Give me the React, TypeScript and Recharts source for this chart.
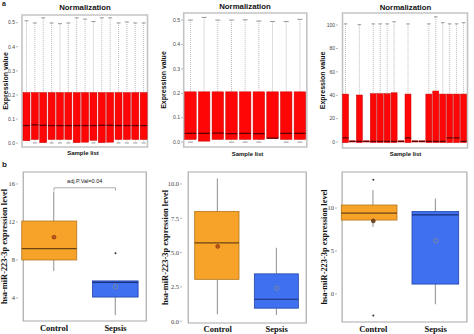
import React from "react";
import { Bar, ComposedChart, ReferenceArea, ReferenceLine, Scatter, XAxis, YAxis } from "recharts";

const SANS = "'Liberation Sans', Arial, Helvetica, sans-serif";
const SERIF = "'Liberation Serif', 'Times New Roman', Times, serif";

// ---- a: normalization box plots (three platforms) ----
const A1_SAMPLES = ["S1", "S2", "S3", "S4", "S5", "S6", "S7", "S8", "S9", "S10", "S11", "S12", "S13", "S14", "S15"];
const A1_MIN = [0.01, 0.005, 0.002, 0.005, 0.005, 0.005, 0.002, 0.004, 0.005, 0.002, 0.004, 0.005, 0.005, 0.005, 0.005];
const A1_Q1 = [0.01, 0.015, 0.002, 0.015, 0.015, 0.015, 0.002, 0.004, 0.012, 0.002, 0.004, 0.015, 0.015, 0.015, 0.015];
const A1_MED = [0.073, 0.076, 0.074, 0.073, 0.073, 0.073, 0.073, 0.073, 0.073, 0.074, 0.074, 0.073, 0.073, 0.073, 0.073];
const A1_Q3 = [0.21, 0.21, 0.21, 0.21, 0.21, 0.21, 0.21, 0.21, 0.21, 0.21, 0.21, 0.21, 0.21, 0.21, 0.21];
const A1_MAX = [0.508, 0.499, 0.52, 0.499, 0.496, 0.499, 0.52, 0.515, 0.505, 0.52, 0.52, 0.499, 0.503, 0.499, 0.499];

const A2_SAMPLES = ["S1", "S2", "S3", "S4", "S5", "S6", "S7", "S8", "S9"];
const A2_MIN = [0.004, 0.004, 0.011, 0.004, 0.004, 0.004, 0.015, 0.004, 0.004];
const A2_Q1 = [0.011, 0.004, 0.011, 0.011, 0.011, 0.011, 0.015, 0.011, 0.011];
const A2_MED = [0.036, 0.036, 0.037, 0.035, 0.036, 0.035, 0.016, 0.036, 0.036];
const A2_Q3 = [0.206, 0.206, 0.206, 0.206, 0.206, 0.206, 0.206, 0.206, 0.206];
const A2_MAX = [0.5, 0.511, 0.5, 0.5, 0.501, 0.496, 0.494, 0.494, 0.503];

const A3_SAMPLES = ["S1", "S2", "S3", "S4", "S5", "S6", "S7", "S8", "S9", "S10", "S11", "S12", "S13", "S14", "S15", "S16", "S17", "S18"];
const A3_MIN = [-0.5, 0, -0.5, 0, -0.5, -0.5, -0.5, -0.5, 0, -0.5, 0, 0, -0.5, -0.5, -0.5, -0.5, -0.5, -0.5];
const A3_Q1 = [-0.5, 0, -0.5, 0, -0.5, -0.5, -0.5, -0.5, 0, -0.5, 0, 0, -0.5, -0.5, -0.5, -0.5, -0.5, -0.5];
const A3_MED = [3.5, 0.5, 0.5, 0.5, 0.5, 0.5, 0.5, 0.5, 0.5, 3.5, 0.5, 0.5, 0.5, 0.5, 0.5, 3.5, 3.5, 0.5];
const A3_Q3 = [41, 1, 40.2, 1, 41.3, 41.3, 41.3, 42.1, 1, 41, 1, 1, 41, 43.6, 41, 41, 41, 41];
const A3_MAX = [101, 1, 100.3, 1, 101, 101, 101, 102.8, 1, 101, 1, 1, 101, 107, 102, 101, 101, 102];

// ---- b: hsa-miR-223-3p expression, Control vs Sepsis ----
const GROUPS = ["Control", "Sepsis"];
const B1_MIN = [6.85, 2.2];
const B1_Q1 = [8.0, 4.1];
const B1_MED = [9.2, 5.65];
const B1_Q3 = [12.1, 5.8];
const B1_MAX = [15.2, 5.8];
const B1_MEAN = [10.4, 5.2];
const B1_OUT_HI = [null, 8.7];
const B1_PVAL = "adj.P.Val=0.04";
const B1_BRACKET = 15.6;

const B2_MIN = [0.5, 0.45];
const B2_Q1 = [3.05, 0.95];
const B2_MED = [5.7, 1.6];
const B2_Q3 = [8.0, 3.45];
const B2_MAX = [10.4, 5.35];
const B2_MEAN = [5.45, 2.4];

const B3_MIN = [7.8, -1.2];
const B3_Q1 = [8.6, 1.15];
const B3_MED = [9.4, 9.2];
const B3_Q3 = [10.35, 9.6];
const B3_MAX = [12.1, 11.1];
const B3_MEAN = [8.5, 6.2];
const B3_OUT_HI = [13.3, null];
const B3_OUT_LO = [-2.5, null];

const NORM_TICKS = [0, 0.1, 0.2, 0.3, 0.4, 0.5];
const A3_TICKS = [0, 20, 40, 60, 80, 100];
const B1_TICKS = [4, 8, 12, 16];
const B2_TICKS = [0, 2.5, 5, 7.5, 10];
const B3_TICKS = [0, 5, 10];

type Row = {
  name: string; min: number; q1: number; med: number; q3: number; max: number;
  mean: number | null; outHi: number | null; outLo: number | null;
};

function toRows(
  names: string[], min: number[], q1: number[], med: number[], q3: number[], max: number[],
  mean: (number | null)[] = [], outHi: (number | null)[] = [], outLo: (number | null)[] = []
): Row[] {
  return names.map((name, i) => ({
    name, min: min[i], q1: q1[i], med: med[i], q3: q3[i], max: max[i],
    mean: mean[i] ?? null, outHi: outHi[i] ?? null, outLo: outLo[i] ?? null,
  }));
}

type Look = {
  fill: string; stroke: string; sw: number; median: string; medW: number;
  whisker: string; ww: number; dash?: string; cap: number; capColor: string;
  w: number; dx: number; meanFill: string; meanStroke: string;
};

const RED: Look = {
  fill: "#ff0606", stroke: "#c80000", sw: 0.5, median: "#5a0000", medW: 1.3,
  whisker: "#a8a8a8", ww: 0.8, dash: "1 1", cap: 4, capColor: "#8c8c8c",
  w: 7, dx: 0, meanFill: "none", meanStroke: "none",
};
const ORANGE: Look = {
  fill: "#f7a229", stroke: "#b5761c", sw: 0.8, median: "#6b4614", medW: 1.2,
  whisker: "#8f8f8f", ww: 1, cap: 0, capColor: "#8f8f8f",
  w: 50, dx: 0, meanFill: "#c0581c", meanStroke: "#8a3c10",
};
const BLUE: Look = {
  fill: "#3e70ef", stroke: "#2445a8", sw: 0.8, median: "#1b2f78", medW: 1.2,
  whisker: "#8f8f8f", ww: 1, cap: 0, capColor: "#8f8f8f",
  w: 45, dx: 0, meanFill: "none", meanStroke: "#8a8a8a",
};

function BoxShape(props: any) {
  const { x, y, width, height, payload, look } = props;
  if (!payload || x == null || y == null) return <g />;
  const top = Math.min(y, y + height);
  const bot = Math.max(y, y + height);
  const span = payload.max - payload.min;
  const py = (v: number) => (span <= 0 ? bot : top + ((payload.max - v) / span) * (bot - top));
  const cx = x + width / 2;
  const bx = cx + look.dx - look.w / 2;
  const yMax = py(payload.max);
  const yQ3 = py(payload.q3);
  const yMed = py(payload.med);
  const yQ1 = py(payload.q1);
  const yMin = py(payload.min);
  return (
    <g>
      {payload.max > payload.q3 && (
        <line x1={cx} x2={cx} y1={yMax} y2={yQ3} stroke={look.whisker} strokeWidth={look.ww} strokeDasharray={look.dash} />
      )}
      {payload.min < payload.q1 && (
        <line x1={cx} x2={cx} y1={yQ1} y2={yMin} stroke={look.whisker} strokeWidth={look.ww} strokeDasharray={look.dash} />
      )}
      {look.cap > 0 && payload.max > payload.q3 && (
        <line x1={cx - look.cap / 2} x2={cx + look.cap / 2} y1={yMax} y2={yMax} stroke={look.capColor} strokeWidth={0.9} />
      )}
      {look.cap > 0 && payload.min < payload.q1 && (
        <line x1={cx - look.cap / 2} x2={cx + look.cap / 2} y1={yMin + 1} y2={yMin + 1} stroke={look.capColor} strokeWidth={0.9} />
      )}
      <rect x={bx} y={yQ3} width={look.w} height={Math.max(yQ1 - yQ3, 1)} fill={look.fill} stroke={look.stroke} strokeWidth={look.sw} />
      <line x1={bx} x2={bx + look.w} y1={yMed} y2={yMed} stroke={look.median} strokeWidth={look.medW} />
    </g>
  );
}

type Cfg = {
  left: number; top: number; width: number; height: number;
  margin: { top: number; right: number; bottom: number; left: number };
  yWidth: number; xHeight: number; padL: number; padR: number;
  domain: [number, number]; ticks: number[]; fmt: (v: number) => string;
  looks: Look[]; norm: boolean; yTitleX: number; xTitleY: number; titleY: number; titleDx: number; tickMargin: number;
};

function BoxPanel({ cfg, data, children }: { cfg: Cfg; data: Row[]; children?: React.ReactNode }) {
  const names = data.map((d) => d.name);
  const lookOf = (name: string) => cfg.looks[Math.max(names.indexOf(name), 0) % cfg.looks.length];
  const plotL = cfg.margin.left + cfg.yWidth;
  const plotR = cfg.width - cfg.margin.right;
  const plotT = cfg.margin.top;
  const plotB = cfg.height - cfg.margin.bottom - cfg.xHeight;
  const midX = (plotL + plotR) / 2;
  const midY = (plotT + plotB) / 2;
  const yTitle = cfg.norm ? "Expression value" : "hsa-miR-223-3p expression level";

  return (
    <div style={{ position: "absolute", left: cfg.left, top: cfg.top }}>
      <ComposedChart width={cfg.width} height={cfg.height} data={data} margin={cfg.margin}>
        <XAxis
          dataKey="name"
          type="category"
          interval={0}
          height={cfg.xHeight}
          padding={{ left: cfg.padL, right: cfg.padR }}
          axisLine={false}
          tickLine={false}
          tickSize={0}
          tickMargin={cfg.tickMargin}
          tick={cfg.norm ? false : { fontSize: 8.5, fontWeight: 700, fill: "#111", fontFamily: SERIF }}
          label={() =>
            cfg.norm ? (
              <text x={midX} y={cfg.xTitleY} textAnchor="middle" fontSize={6} fontWeight={700} fill="#111" fontFamily={SANS}>
                Sample list
              </text>
            ) : null
          }
        />
        <YAxis
          type="number"
          domain={cfg.domain}
          ticks={cfg.ticks}
          interval={0}
          allowDataOverflow
          width={cfg.yWidth}
          axisLine={false}
          tickSize={2}
          tickMargin={1}
          tickLine={{ stroke: "#888", strokeWidth: 0.6 }}
          tickFormatter={cfg.fmt}
          tick={{ fontSize: cfg.norm ? 5 : 6.5, fill: "#444", fontFamily: cfg.norm ? SANS : SERIF }}
          label={() => (
            <text
              x={cfg.yTitleX}
              y={midY}
              transform={`rotate(-90 ${cfg.yTitleX} ${midY})`}
              textAnchor="middle"
              dominantBaseline="central"
              fontSize={cfg.norm ? 7 : 8.4}
              fontWeight={700}
              fill="#111"
              fontFamily={cfg.norm ? SANS : SERIF}
            >
              {yTitle}
            </text>
          )}
        />
        <ReferenceArea
          y1={cfg.domain[0]}
          y2={cfg.domain[1]}
          ifOverflow="visible"
          fill="none"
          stroke={cfg.norm ? "#c4c4c4" : "#aaaaaa"}
          strokeWidth={cfg.norm ? 1.6 : 1.2}
          label={() =>
            cfg.norm ? (
              <text x={midX + cfg.titleDx} y={cfg.titleY} textAnchor="middle" fontSize={7.8} fontWeight={700} fill="#111" fontFamily={SANS}>
                Normalization
              </text>
            ) : null
          }
        />
        <Bar
          dataKey={(d: Row) => [d.min, d.max]}
          barSize={cfg.looks[0].w}
          isAnimationActive={false}
          shape={(p: any) => <BoxShape {...p} look={lookOf(p.payload?.name)} />}
        />
        {!cfg.norm && (
          <Scatter
            dataKey="mean"
            isAnimationActive={false}
            shape={(p: any) => {
              if (p.payload?.mean == null) return <g />;
              const lk = lookOf(p.payload.name);
              return <circle cx={p.cx} cy={p.cy} r={lk.meanFill === "none" ? 2.2 : 1.9} fill={lk.meanFill} stroke={lk.meanStroke} strokeWidth={0.8} />;
            }}
          />
        )}
        {!cfg.norm && (
          <Scatter
            dataKey="outHi"
            isAnimationActive={false}
            shape={(p: any) => (p.payload?.outHi == null ? <g /> : <circle cx={p.cx} cy={p.cy} r={1} fill="#333" />)}
          />
        )}
        {!cfg.norm && (
          <Scatter
            dataKey="outLo"
            isAnimationActive={false}
            shape={(p: any) => (p.payload?.outLo == null ? <g /> : <circle cx={p.cx} cy={p.cy} r={1} fill="#333" />)}
          />
        )}
        {children}
      </ComposedChart>
    </div>
  );
}

const fmt1 = (v: number) => v.toFixed(1);
const fmt0 = (v: number) => String(v);

const A1: Cfg = {
  left: 0, top: 0, width: 160, height: 165, margin: { top: 15, right: 12, bottom: 0, left: 4 },
  yWidth: 14, xHeight: 18, padL: 4, padR: 0.5, domain: [-0.016, 0.532], ticks: NORM_TICKS, fmt: fmt1,
  looks: [{ ...RED, w: 7 }], norm: true, yTitleX: 5.5, xTitleY: 155, titleY: 10, titleDx: 2, tickMargin: 0,
};
const A2: Cfg = {
  left: 155, top: 0, width: 160, height: 165, margin: { top: 13, right: 3, bottom: 0, left: 8 },
  yWidth: 20, xHeight: 18, padL: 0.7, padR: 5.2, domain: [-0.02, 0.529], ticks: NORM_TICKS, fmt: fmt1,
  looks: [{ ...RED, w: 11.5, cap: 5 }], norm: true, yTitleX: 8, xTitleY: 155.5, titleY: 9.3, titleDx: -2.5, tickMargin: 0,
};
const A3: Cfg = {
  left: 310, top: 0, width: 164, height: 165, margin: { top: 13, right: 1, bottom: 0, left: 10 },
  yWidth: 18, xHeight: 17, padL: 4.5, padR: 5.5, domain: [-5.1, 110.3], ticks: A3_TICKS, fmt: fmt0,
  looks: [{ ...RED, w: 6, cap: 3.5 }], norm: true, yTitleX: 12.8, xTitleY: 156, titleY: 9.5, titleDx: 0, tickMargin: 0,
};
const B1: Cfg = {
  left: 0, top: 165, width: 160, height: 169, margin: { top: 7, right: 7, bottom: 0, left: 6 },
  yWidth: 12, xHeight: 13, padL: 5.25, padR: 6.75, domain: [1.58, 17.26], ticks: B1_TICKS, fmt: fmt0,
  looks: [{ ...ORANGE, w: 55, dx: -4.5 }, { ...BLUE, w: 45.7 }], norm: false, yTitleX: 4.5, xTitleY: 0, titleY: 0, titleDx: 0, tickMargin: 4,
};
const B2: Cfg = {
  left: 155, top: 165, width: 160, height: 169, margin: { top: 7, right: 7, bottom: 0, left: 12 },
  yWidth: 15, xHeight: 11, padL: 6.2, padR: 1.8, domain: [-0.13, 10.87], ticks: B2_TICKS, fmt: fmt1,
  looks: [{ ...ORANGE, w: 44.3, dx: -0.5 }, { ...BLUE, w: 44 }], norm: false, yTitleX: 10, xTitleY: 0, titleY: 0, titleDx: 0, tickMargin: 3,
};
const B3: Cfg = {
  left: 310, top: 165, width: 164, height: 169, margin: { top: 7, right: 1, bottom: 0, left: 15 },
  yWidth: 12, xHeight: 12, padL: 5.1, padR: 6.1, domain: [-3.26, 14.19], ticks: B3_TICKS, fmt: fmt0,
  looks: [{ ...ORANGE, w: 55.7, dx: -3.8, meanFill: "#7a4a22", meanStroke: "#5a3412" }, { ...BLUE, w: 46.7 }], norm: false, yTitleX: 14.5, xTitleY: 0, titleY: 0, titleDx: 0, tickMargin: 4,
};

export default function App() {
  const a1 = toRows(A1_SAMPLES, A1_MIN, A1_Q1, A1_MED, A1_Q3, A1_MAX);
  const a2 = toRows(A2_SAMPLES, A2_MIN, A2_Q1, A2_MED, A2_Q3, A2_MAX);
  const a3 = toRows(A3_SAMPLES, A3_MIN, A3_Q1, A3_MED, A3_Q3, A3_MAX);
  const b1 = toRows(GROUPS, B1_MIN, B1_Q1, B1_MED, B1_Q3, B1_MAX, B1_MEAN, B1_OUT_HI);
  const b2 = toRows(GROUPS, B2_MIN, B2_Q1, B2_MED, B2_Q3, B2_MAX, B2_MEAN);
  const b3 = toRows(GROUPS, B3_MIN, B3_Q1, B3_MED, B3_Q3, B3_MAX, B3_MEAN, B3_OUT_HI, B3_OUT_LO);
  const bracket = { stroke: "#9a9a9a", strokeWidth: 0.8, ifOverflow: "visible" as const };

  return (
    <div style={{ position: "absolute", left: 0, top: 0, width: 474, height: 334, background: "#fff", overflow: "hidden" }}>
      <BoxPanel cfg={A1} data={a1} />
      <BoxPanel cfg={A2} data={a2} />
      <BoxPanel cfg={A3} data={a3} />
      <BoxPanel cfg={B1} data={b1}>
        <ReferenceLine
          {...bracket}
          segment={[{ x: GROUPS[0], y: B1_BRACKET }, { x: GROUPS[1], y: B1_BRACKET }]}
          label={{ value: B1_PVAL, position: "top", offset: 5, fontSize: 5.6, fill: "#222", fontFamily: SANS }}
        />
        <ReferenceLine {...bracket} segment={[{ x: GROUPS[0], y: B1_BRACKET }, { x: GROUPS[0], y: B1_BRACKET - 0.3 }]} />
        <ReferenceLine {...bracket} segment={[{ x: GROUPS[1], y: B1_BRACKET }, { x: GROUPS[1], y: B1_BRACKET - 0.3 }]} />
      </BoxPanel>
      <BoxPanel cfg={B2} data={b2} />
      <BoxPanel cfg={B3} data={b3} />
      <svg width={474} height={334} style={{ position: "absolute", left: 0, top: 0, pointerEvents: "none" }}>
        <text x={2} y={6} fontSize={7} fontWeight={700} fill="#222" fontFamily={SANS}>a</text>
        <text x={2} y={167} fontSize={8} fontWeight={700} fill="#222" fontFamily={SANS}>b</text>
      </svg>
    </div>
  );
}
